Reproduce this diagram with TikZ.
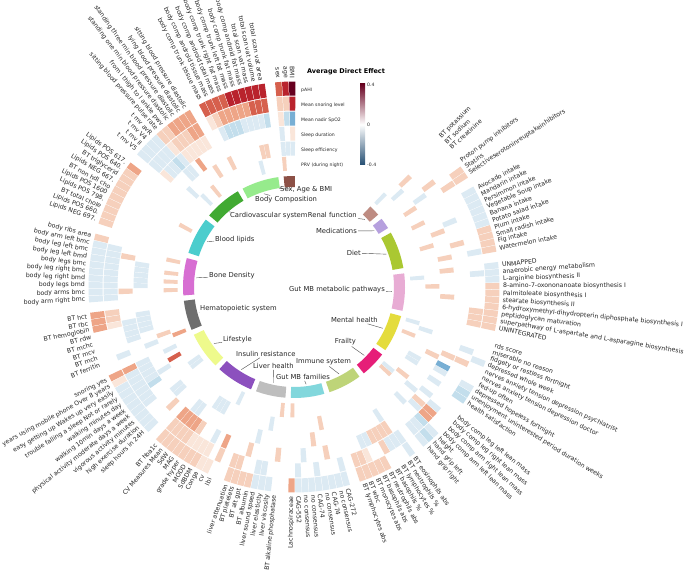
\documentclass[tikz,border=0pt]{standalone}
\usepackage{fontspec}
\setmainfont{DejaVu Sans}
\definecolor{A}{RGB}{103,0,31}\definecolor{B}{RGB}{185,35,45}\definecolor{C}{RGB}{214,96,77}
\definecolor{D}{RGB}{238,165,135}\definecolor{E}{RGB}{246,208,188}\definecolor{F}{RGB}{250,230,218}
\definecolor{G}{RGB}{220,234,243}\definecolor{H}{RGB}{195,222,236}\definecolor{I}{RGB}{120,175,212}
\definecolor{J}{RGB}{60,130,190}\colorlet{n}{white}
\definecolor{cSex}{RGB}{140,80,70}\definecolor{cBody}{RGB}{150,235,140}\definecolor{cCard}{RGB}{65,170,50}
\definecolor{cLip}{RGB}{75,205,205}\definecolor{cBone}{RGB}{215,110,210}\definecolor{cHem}{RGB}{110,110,110}
\definecolor{cLife}{RGB}{238,250,140}\definecolor{cIns}{RGB}{140,80,190}\definecolor{cLiv}{RGB}{190,190,190}
\definecolor{cFam}{RGB}{130,215,220}\definecolor{cImm}{RGB}{190,212,120}\definecolor{cFra}{RGB}{230,30,120}
\definecolor{cMen}{RGB}{228,220,60}\definecolor{cMet}{RGB}{232,172,212}\definecolor{cDiet}{RGB}{170,200,50}
\definecolor{cMed}{RGB}{182,160,222}\definecolor{cRen}{RGB}{190,140,130}
\tikzset{lab/.style={font=\fontsize{6.2}{7}\selectfont,inner sep=0pt,text=black!85},
catlab/.style={font=\fontsize{6.8}{8}\selectfont,inner sep=1pt,text=black!85},
leg/.style={font=\fontsize{4.6}{5}\selectfont,inner sep=0pt,anchor=west,text=black!85},
leader/.style={draw=black!70,line width=0.4pt}}
\xdef\ang{90.5}\xdef\cs{90.5}
\newcommand\feat[2]{%
 \foreach \c [count=\k] in {#2}{%
   \pgfmathsetmacro\ro{205.5-15*(\k-1)}\pgfmathsetmacro\ri{\ro-14}%
   \pgfmathsetmacro\aa{\ang-0.9}\pgfmathsetmacro\ab{\ang+0.9}%
   \fill[\c] (\aa:\ri) arc[start angle=\aa,end angle=\ab,radius=\ri] -- (\ab:\ro) arc[start angle=\ab,end angle=\aa,radius=\ro] -- cycle;}%
 \pgfmathsetmacro\na{mod(\ang,360)}%
 \pgfmathparse{(\na>90 && \na<270)?1:0}%
 \ifdim\pgfmathresult pt>0.5pt \node[lab,anchor=east,rotate=\na-180] at (\ang:209) {#1};%
 \else \node[lab,anchor=west,rotate=\na] at (\ang:209) {#1};\fi
 \pgfmathsetmacro\tmp{\ang+1.95}\xdef\ang{\tmp}}
\newcommand\catring[2]{%
 \pgfmathsetmacro\ce{\ang-1.0}\pgfmathsetmacro\cb{\cs-0.95}\pgfmathsetmacro\cm{(\ce+\cb)/2}%
 \fill[#1] (\cb:100) arc[start angle=\cb,end angle=\ce,radius=100] -- (\ce:111) arc[start angle=\ce,end angle=\cb,radius=111] -- cycle;
 \coordinate (r#2) at (\cm:98);
 \pgfmathsetmacro\tmp{\ang+2.75}\xdef\ang{\tmp}\xdef\cs{\ang}}
\begin{document}
\begin{tikzpicture}[x=1pt,y=1pt]
\useasboundingbox (0,0) rectangle (685,571);
\fill[white] (0,0) rectangle (685,571);
\begin{scope}[shift={(294,284)}]
\feat{BMI}{A,B,I,F,G,n}\feat{age}{B,E,H,n,G,n}\feat{sex}{C,E,F,G,G,E}
\catring{cSex}{sex}
\feat{total scan vat area}{B,C,H}\feat{total scan vat volume}{B,C,G,n,E}\feat{total scan vat mass}{B,C,G,n,E}
\feat{body comp android fat mass}{B,D,G,n,n,G}\feat{body comp trunk fat mass}{B,D,G}\feat{body comp trunk left fat mass}{B,D,H}
\feat{body comp trunk right fat mass}{C,D,H}\feat{body comp android total mass}{C,D,H}\feat{body comp android tissue mass}{C,E,G}
\feat{body comp trunk tissue mass}{C,F,n,n,E}
\catring{cBody}{body}
\feat{sitting blood pressure diastolic}{D,D,F}\feat{lying blood pressure diastolic}{D,D,F,n,E}
\feat{standing three min blood pressure diastolic}{D,E,F}\feat{standing one min blood pressure diastolic}{D,E,F,D}
\feat{from l thigh to l ankle pwv}{E,E,F,n,n,E}\feat{sitting blood pressure pulse rate}{E,F,G,G}
\feat{t mv avR}{G,G,H,G}\feat{t mv V4}{G,G,G,n,n,G}\feat{t mv II}{G,G,G,n,G}\feat{t mv V5}{G,G,F}
\catring{cCard}{card}
\feat{Lipids POS 617.}{D}\feat{Lipids POS 640.}{E}\feat{BT  triglycerid}{E}\feat{Lipids NEG 667.}{E}
\feat{BT  non hdl cho}{E,n,n,n,n,E}\feat{Lipids POS 1600}{E}\feat{Lipids POS 798.}{E}\feat{BT  total chole}{E}
\feat{Lipids POS 660.}{E}\feat{Lipids NEG 697.}{E}
\catring{cLip}{lip}
\feat{body ribs area}{E}\feat{body arm left bmc}{G,G,n,n,n,E}\feat{body leg left bmc}{G,G,E}\feat{body leg left bmd}{G,G,n,G}
\feat{body legs bmc}{G,G,n,G,n,E}\feat{body leg right bmc}{G,G,n,G}\feat{body leg right bmd}{G,G,n,G,n,E}
\feat{body legs bmd}{G,G,n,G}\feat{body arms bmc}{G,G,E,n,n,E}\feat{body arm right bmc}{G,G}
\catring{cBone}{bone}
\feat{BT  hct}{D,E}\feat{BT  rbc}{D,E,n,G}\feat{BT  hemoglobin}{D,F,G,G}\feat{BT  rdw}{n,n,G,G}
\feat{BT  mchc}{n,n,G,G}\feat{BT  mcv}{n,n,G}\feat{BT  mch}{n,n,n,n,E}\feat{BT  ferritin}{n,G,n,G,n,D}
\catring{cHem}{hem}
\feat{snoring yes}{D,D,G,n,G}\feat{years using mobile phone Over 8 years}{F,G,G}\feat{easy getting up Wakes up very easily}{G,G,G,n,C}
\feat{trouble falling a sleep Not or rarely}{G,G,G,G}\feat{walking minutes day}{G,G,H}\feat{walking 10min days a week}{G,G,n,n,n,G}
\feat{physical activity moderate days a week}{G,G,n,n,n,G}\feat{vigorous activity minutes}{G,n,n,G}\feat{high exercise duration}{G,n,n,G}\feat{sleep hours in 24H}{G,n,E}
\catring{cLife}{life}
\feat{BT  hba1c}{E,E,D}\feat{CV Measures Mean}{E,E,D,G}\feat{SdW}{E,E,D,G}\feat{MAG}{E,E,D}\feat{grade hyper}{E,F,E,n,G}
\feat{MODD}{E,F,n,n,G}\feat{SdBDM}{E,F,n,n,G}\feat{Conga}{F,F,G}\feat{cv}{F,n,n,n,n,G}\feat{lbi}{n,E,D}
\catring{cIns}{ins}
\feat{liver attenuation}{E,E}\feat{BT  platelets}{E,E}\feat{BT  alt gpt}{E,n,E}\feat{BT  albumin}{E,n,n,G}
\feat{liver sound speed}{G,G}\feat{liver elasticity}{G,G,n,n,G}\feat{liver viscosity}{G}\feat{BT  alkaline phosphatase}{n,n,E,n,n,E}
\catring{cLiv}{liv}
\feat{Lachnospiraceae}{D,n,n,n,n,E}\feat{CAG-552}{G,G}\feat{no consensus}{G,n,G}\feat{no consensus}{G}
\feat{CAG-74}{G,G,n,E}\feat{no consensus}{G}\feat{CAG-74}{G,n,E,n,E}\feat{no consensus}{G}\feat{CAG-272}{G,G}
\catring{cFam}{fam}
\feat{BT  lymphocytes abs}{E,E}\feat{BT  wbc}{E,E}\feat{BT  monocytes abs}{E,F,G}\feat{BT  basophils abs}{E,n,G}
\feat{BT  neutrophils abs}{E,n,E}\feat{BT  basophils \%}{n,E,E}\feat{BT  lymphocytes \%}{n,G,E}\feat{BT  neutrophils \%}{n,G,E,G}\feat{BT  eosinophils abs}{G,G}
\catring{cImm}{imm}
\feat{hand grip right}{G,G}\feat{hand grip left}{H,G}\feat{height}{G,H,n,G}\feat{body comp arm left lean mass}{n,D,G}
\feat{body comp arm right lean mass}{n,D,E,n,n,E}\feat{body comp leg right lean mass}{n,G,n,G,n,G}\feat{body comp leg left lean mass}{n,n,G,n,E}
\catring{cFra}{fra}
\feat{health satisfaction}{H,n,G}\feat{unenjoyment uninterested period duration weeks}{H,n,n,n,G}\feat{depressed hopeless fortnight}{G,n,G,n,G}
\feat{fed-up often}{n,n,I}\feat{nerves anxiety tension depression doctor}{n,n,n,E}\feat{nerves anxiety tension depression psychiatrist}{n,E,E}
\feat{depressed whole week}{G,n,n,n,n,E}\feat{fidgety or restless fortnight}{n,G}\feat{miserable no reason}{n,n,n,n,G}\feat{rds score}{n,n,n,n,n,G}
\catring{cMen}{men}
\feat{UNINTEGRATED}{E,E}\feat{superpathway of L-aspartate and L-asparagine biosynthesis I}{E,E}\feat{peptidoglycan maturation}{E,E}
\feat{6-hydroxymethyl-dihydropterin diphosphate biosynthesis I}{E}\feat{stearate biosynthesis II}{E,n,n,E}\feat{palmitoleate biosynthesis I}{E}
\feat{8-amino-7-oxononanoate biosynthesis I}{E,n,n,n,E}\feat{L-arginine biosynthesis II}{G}\feat{anaerobic energy metabolism}{G,G,n,n,n,G}\feat{UNMAPPED}{G,n,n,E}
\catring{cMet}{met}
\feat{Watermelon intake}{E,G,n,E}\feat{Fig intake}{E}\feat{Small radish intake}{E,n,E}\feat{Plum intake}{E,n,n,n,E}
\feat{Potato salad intake}{G}\feat{Banana intake}{G,n,n,E}\feat{Vegetable Soup intake}{G,n,G}\feat{Persimmon intake}{G}
\feat{Mandarin intake}{G,n,n,n,E}\feat{Avocado intake}{G}
\catring{cDiet}{diet}
\feat{Selectiveserotoninreuptakeinhibitors}{E,E,n,n,E}\feat{Statins}{E,n,n,G}\feat{Proton pump inhibitors}{n,n,E}
\catring{cMed}{med}
\feat{BT  creatinine}{n,n,n,n,G}\feat{BT  sodium}{n,n,n,E}\feat{BT  potassium}{n,n,n,n,n,G}
\catring{cRen}{ren}
% category labels
\node[catlab,anchor=west] (lsex) at (-15,97) {Sex, Age \& BMI};
\node[catlab,anchor=west] (lbody) at (-40,87) {Body Composition};
\node[catlab,anchor=west] (lcard) at (-65,71) {Cardiovascular system};
\node[catlab,anchor=west] (llip) at (-80,47) {Blood lipids};
\node[catlab,anchor=west] (lbone) at (-86,11) {Bone Density};
\node[catlab,anchor=west] (lhem) at (-95,-22) {Hematopoietic system};
\node[catlab,anchor=west] (llife) at (-72,-53) {Lifestyle};
\node[catlab,anchor=west] (lins) at (-59,-67) {Insulin resistance};
\node[catlab,anchor=west] (lliv) at (-42,-79) {Liver health};
\node[catlab,anchor=west] (lfam) at (-19,-90) {Gut MB families};
\node[catlab,anchor=west] (limm) at (1,-75) {Immune system};
\node[catlab,anchor=east] (lfra) at (63,-55) {Frailty};
\node[catlab,anchor=east] (lmen) at (85,-33) {Mental health};
\node[catlab,anchor=east] (lmet) at (92,-3) {Gut MB metabolic pathways};
\node[catlab,anchor=east] (ldiet) at (68,34) {Diet};
\node[catlab,anchor=east] (lmed) at (64,56) {Medications};
\node[catlab,anchor=east] (lren) at (64,72) {Renal function};
\foreach \a in {sex,body,card,lip,bone,hem,life,ins,liv,fam,imm,fra,men,met,diet,med,ren}
  \path[leader] (l\a) -- (r\a);
% legend row labels
\node[leg] (p1) at (7,197) {pAHI};
\node[leg] (p2) at (7,182) {Mean snoring level};
\node[leg] (p3) at (7,167) {Mean nadir SpO2};
\node[leg] (p4) at (7,152) {Sleep duration};
\node[leg] (p5) at (7,137) {Sleep efficiency};
\node[leg] (p6) at (7,122) {PRV (during night)};
\end{scope}
\node[font=\bfseries\fontsize{6.5}{7}\selectfont] (title) at (346,499) {Average Direct Effect};
\shade[top color=A,bottom color=J!60!black,middle color=white] (360,406) rectangle (365,487);
\node[leg] (t1) at (367,486) {0.4};
\node[leg] (t0) at (367,446) {0};
\node[leg] (t2) at (367,406) {-0.4};
\end{tikzpicture}
\end{document}
